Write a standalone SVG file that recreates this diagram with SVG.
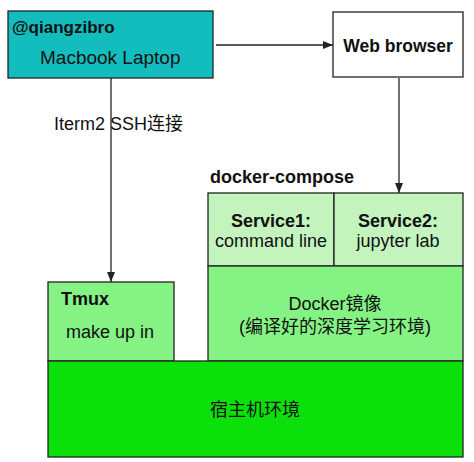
<svg xmlns="http://www.w3.org/2000/svg" width="474" height="462" viewBox="0 0 474 462">
<style>
.box{stroke:#222;stroke-width:1.3}
.t{font-family:"Liberation Sans","Noto Sans CJK SC",sans-serif;font-size:18px;fill:#111}
.b{font-weight:bold}
.c{text-anchor:middle}
.ln{stroke:#222;stroke-width:1.3;fill:none}
</style>
<defs>
<marker id="ah" viewBox="0 0 10 10" refX="10" refY="5" markerWidth="10" markerHeight="10" markerUnits="userSpaceOnUse" orient="auto">
<path d="M0,1 L10,5 L0,9 Z" fill="#222"/>
</marker>
</defs>
<rect width="474" height="462" fill="#fff"/>
<g id="connectors">
<line class="ln" x1="216" y1="45" x2="333" y2="45" marker-end="url(#ah)"/>
<line class="ln" x1="399" y1="78" x2="399" y2="193" marker-end="url(#ah)"/>
<line class="ln" x1="111" y1="78" x2="111" y2="282" marker-end="url(#ah)"/>
<text class="t" x="54" y="130">Iterm2 SSH连接</text>
</g>
<g id="laptop">
<rect class="box" x="8" y="11" width="205" height="67" fill="#14BDBD"/>
<text class="t b" x="12" y="33" style="font-size:17px">@qiangzibro</text>
<text class="t" x="40" y="64" style="font-size:19px">Macbook Laptop</text>
</g>
<g id="browser">
<rect class="box" x="333" y="12" width="130" height="65" fill="#fff"/>
<text class="t b c" x="398" y="52" style="font-size:17.5px">Web browser</text>
</g>
<g id="docker-compose">
<text class="t b" x="210" y="183">docker-compose</text>
</g>
<g id="service1">
<rect class="box" x="208" y="193" width="126" height="73" fill="#C4F4BE"/>
<text class="t b c" x="271" y="227">Service1:</text>
<text class="t c" x="271" y="247">command line</text>
</g>
<g id="service2">
<rect class="box" x="334" y="193" width="129" height="73" fill="#C4F4BE"/>
<text class="t b c" x="398" y="227">Service2:</text>
<text class="t c" x="398" y="247">jupyter lab</text>
</g>
<g id="docker">
<rect class="box" x="208" y="266" width="255" height="95" fill="#84F384"/>
<text class="t c" x="335" y="310">Docker镜像</text>
<text class="t c" x="335" y="333">(编译好的深度学习环境)</text>
</g>
<g id="tmux">
<rect class="box" x="48" y="282" width="126" height="79" fill="#84F384"/>
<text class="t b" x="61" y="305">Tmux</text>
<text class="t" x="66" y="338">make up in</text>
</g>
<g id="host">
<rect class="box" x="48" y="361" width="415" height="96" fill="#0BE00B"/>
<text class="t c" x="255" y="416">宿主机环境</text>
</g>
</svg>
